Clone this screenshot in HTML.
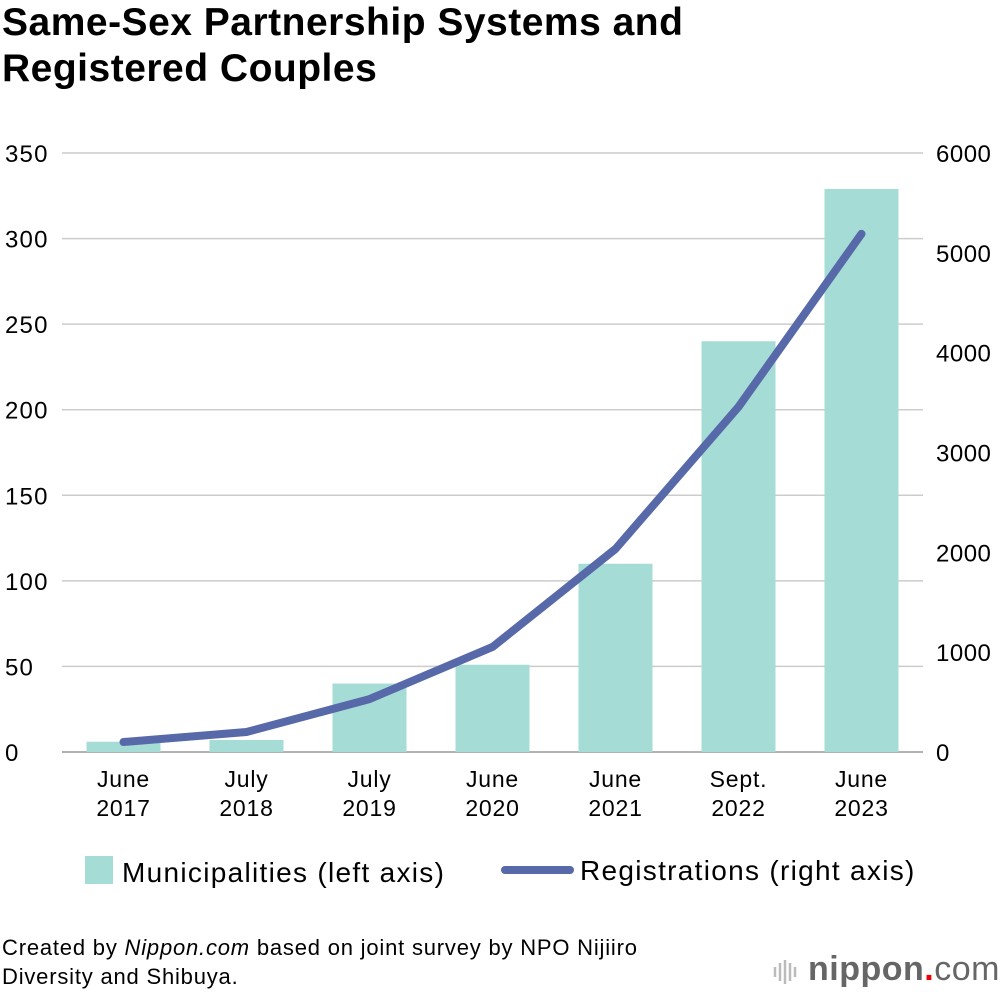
<!DOCTYPE html>
<html><head><meta charset="utf-8"><style>
body{margin:0;background:#fff;font-family:"Liberation Sans",sans-serif;}
#wrap{position:relative;width:1000px;height:994px;overflow:hidden;}
h1{position:absolute;left:2px;top:0px;margin:0;font-size:39px;line-height:46px;font-weight:bold;color:#000;letter-spacing:0.5px;}
.foot{position:absolute;left:2px;top:933px;font-size:22px;line-height:29px;color:#000;letter-spacing:0.8px;}
.logo{position:absolute;left:808px;top:950px;font-size:34px;color:#666;font-weight:bold;letter-spacing:0.5px;}
</style></head><body><div id="wrap">
<h1>Same-Sex Partnership Systems and<br>Registered Couples</h1>
<svg id="chart" width="1000" height="994" style="position:absolute;left:0;top:0"></svg>
<div class="foot">Created by <i>Nippon.com</i> based on joint survey by NPO Nijiiro<br>Diversity and Shibuya.</div>
<div class="logo">nippon<span style="color:#e00">.</span><span style="font-weight:normal">com</span></div>
<svg style="position:absolute;left:772px;top:957px" width="30" height="30">
<g stroke="#bbb" stroke-width="2.5"><line x1="3" y1="10" x2="3" y2="20"/><line x1="8" y1="6" x2="8" y2="24"/><line x1="13" y1="3" x2="13" y2="27"/><line x1="18" y1="6" x2="18" y2="24"/><line x1="23" y1="10" x2="23" y2="20"/></g></svg>
<script>
const categories=[["June","2017"],["July","2018"],["July","2019"],["June","2020"],["June","2021"],["Sept.","2022"],["June","2023"]];
const municipalities=[6,7,40,51,110,240,329];
const registrations=[100,200,530,1052,2034,3457,5190];
const leftTicks=[0,50,100,150,200,250,300,350];
const rightTicks=[0,1000,2000,3000,4000,5000,6000];
const NS="http://www.w3.org/2000/svg";
const svg=document.getElementById('chart');
const x0=62,x1=923,yTop=153,yBot=752;
const yL=v=>yBot-(v/350)*(yBot-yTop);
const yR=v=>yBot-(v/6000)*(yBot-yTop);
const band=(x1-x0)/categories.length;
const xc=i=>x0+band*(i+0.5);
function mk(t,a,txt){const e=document.createElementNS(NS,t);for(const k in a)e.setAttribute(k,a[k]);if(txt!=null)e.textContent=txt;svg.appendChild(e);return e;}
leftTicks.forEach(v=>{
 const g=mk('line',{x1:x0,x2:x1,y1:yL(v),y2:yL(v),stroke:v==0?'#999':'#ccc','stroke-width':1.5});
 
 
 const t=mk('text',{x:5,y:yL(v)+9,'font-size':24,'letter-spacing':1.2,fill:'#000'},String(v));
 
 
});
rightTicks.forEach(v=>{
 const t=mk('text',{x:936,y:yR(v)+9,'font-size':24,'letter-spacing':0.5,fill:'#000'},String(v));
 
 
});
municipalities.forEach((v,i)=>{
 const r=mk('rect',{x:xc(i)-37,y:yL(v),width:74,height:yBot-yL(v),fill:'#a5ddd6'});
 
 
});
categories.forEach((c,i)=>{
 const t=mk('text',{x:xc(i),y:787,'font-size':23,'letter-spacing':0.8,'text-anchor':'middle',fill:'#000'},c[0]);
 
 
 const t2=mk('text',{x:xc(i),y:816,'font-size':23,'letter-spacing':0.8,'text-anchor':'middle',fill:'#000'},c[1]);
 
 
});
const pts=registrations.map((v,i)=>xc(i)+','+yR(v)).join(' ');
const pl=mk('polyline',{points:pts,fill:'none',stroke:'#5769a8','stroke-width':8,'stroke-linecap':'round','stroke-linejoin':'round'});


const lb=mk('rect',{x:85,y:856,width:28,height:28,fill:'#a5ddd6'});


const lt=mk('text',{x:122,y:882,'font-size':28,'letter-spacing':1.3,fill:'#000'},'Municipalities (left axis)');


const ll=mk('line',{x1:505,x2:570,y1:870,y2:870,stroke:'#5769a8','stroke-width':8,'stroke-linecap':'round'});


const lt2=mk('text',{x:580,y:880,'font-size':28,'letter-spacing':1.3,fill:'#000'},'Registrations (right axis)');


</script>
</div></body></html>
